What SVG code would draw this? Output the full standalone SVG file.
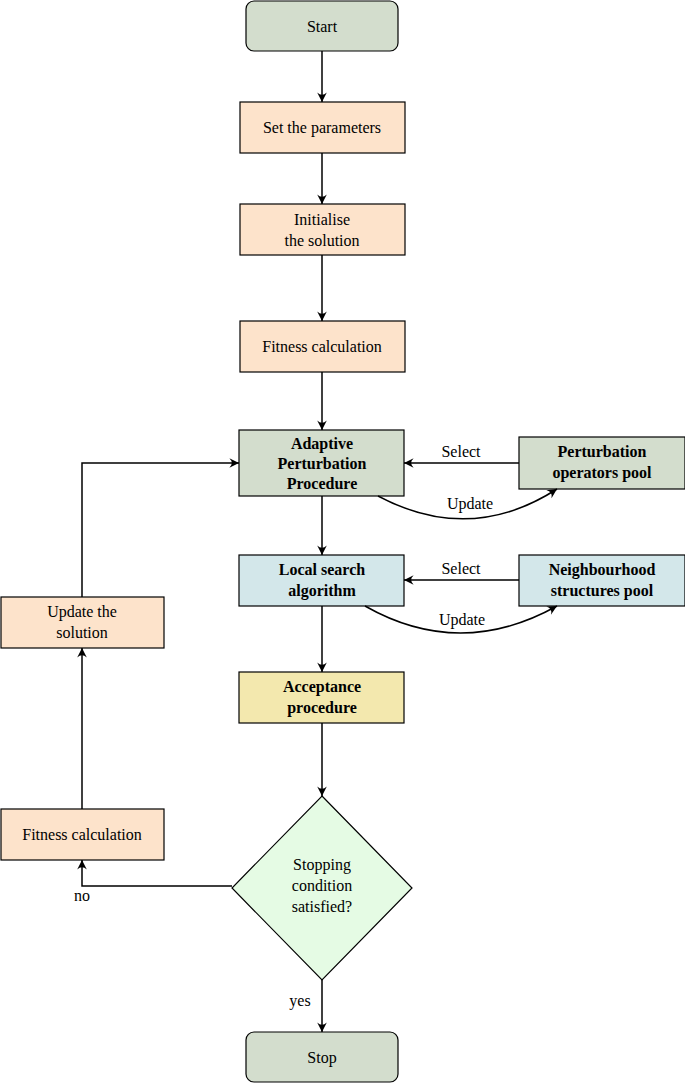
<svg xmlns="http://www.w3.org/2000/svg" width="685" height="1085" viewBox="0 0 685 1085">
<style>
text{font-family:"Liberation Serif","DejaVu Serif",serif;font-size:16px;fill:#000;text-anchor:middle}
.b{font-weight:bold}
rect,polygon{stroke:#000;stroke-width:1.2}
.g{fill:#d3ddcd}.o{fill:#fde3cb}.c{fill:#d3e7ea}.y{fill:#f3e8ae}.d{fill:#e5fbe4}
.e{stroke:#000;stroke-width:1.5;fill:none;marker-end:url(#a)}
</style>
<defs><marker id="a" viewBox="0 0 10 10" refX="9" refY="5" markerWidth="8" markerHeight="8" orient="auto"><path d="M1,1 Q5,5 1,9 L9,5 Z" fill="#000"/></marker></defs>
<g id="start"><rect class="g" x="246" y="1" width="152" height="50" rx="8"/><text x="322" y="32">Start</text></g>
<g id="params"><rect class="o" x="240" y="102" width="165" height="51"/><text x="322" y="133">Set the parameters</text></g>
<g id="init"><rect class="o" x="240" y="204" width="165" height="51"/><text x="322" y="225">Initialise</text><text x="322" y="246">the solution</text></g>
<g id="fit1"><rect class="o" x="240" y="321" width="165" height="51"/><text x="322" y="352">Fitness calculation</text></g>
<g id="app"><rect class="g" x="239" y="430" width="165" height="66"/><text class="b" x="322" y="449">Adaptive</text><text class="b" x="322" y="469">Perturbation</text><text class="b" x="322" y="489">Procedure</text></g>
<g id="pool1"><rect class="g" x="519" y="437" width="166" height="52"/><text class="b" x="602" y="457">Perturbation</text><text class="b" x="602" y="478">operators pool</text></g>
<g id="ls"><rect class="c" x="239" y="555" width="165" height="51"/><text class="b" x="322" y="575">Local search</text><text class="b" x="322" y="596">algorithm</text></g>
<g id="pool2"><rect class="c" x="519" y="555" width="166" height="51"/><text class="b" x="602" y="575">Neighbourhood</text><text class="b" x="602" y="596">structures pool</text></g>
<g id="acc"><rect class="y" x="239" y="672" width="165" height="51"/><text class="b" x="322" y="692">Acceptance</text><text class="b" x="322" y="713">procedure</text></g>
<g id="stopcond"><polygon class="d" points="322,796 412,888 322,980 232,888"/><text x="322" y="870">Stopping</text><text x="322" y="891">condition</text><text x="322" y="912">satisfied?</text></g>
<g id="stop"><rect class="g" x="246" y="1032" width="152" height="50" rx="8"/><text x="322" y="1063">Stop</text></g>
<g id="fit2"><rect class="o" x="1" y="809" width="163" height="51"/><text x="82" y="840">Fitness calculation</text></g>
<g id="upd"><rect class="o" x="1" y="597" width="163" height="51"/><text x="82" y="617">Update the</text><text x="82" y="638">solution</text></g>
<g id="connectors">
<path class="e" d="M322,51V102"/><path class="e" d="M322,153V204"/><path class="e" d="M322,255V321"/><path class="e" d="M322,372V430"/>
<path class="e" d="M322,496V555"/><path class="e" d="M322,606V672"/><path class="e" d="M322,723V796"/><path class="e" d="M322,980V1032"/>
<path class="e" d="M232,886H82V860"/><path class="e" d="M82,809V648"/><path class="e" d="M82,597V463H239"/>
<path class="e" d="M519,463H404"/><path class="e" d="M378,496Q470,545 557,489"/>
<path class="e" d="M519,580H404"/><path class="e" d="M365,606Q460,660 557,606"/>
<text x="461" y="457">Select</text><text x="470" y="509">Update</text>
<text x="461" y="574">Select</text><text x="462" y="625">Update</text>
<text x="82" y="901">no</text><text x="300" y="1006">yes</text>
</g>
</svg>
